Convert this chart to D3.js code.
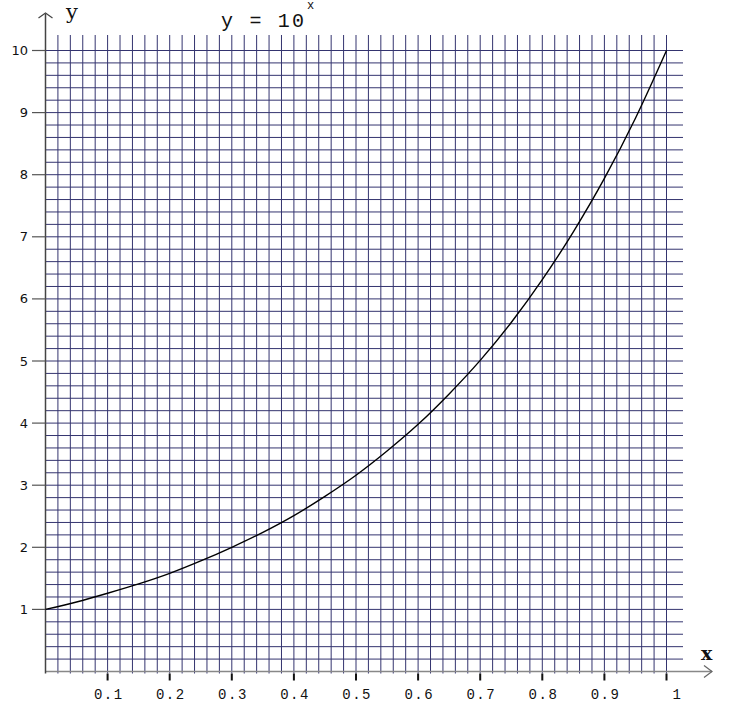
<!DOCTYPE html>
<html>
<head>
<meta charset="utf-8">
<script src="https://cdn.jsdelivr.net/npm/d3@7"></script>
<style>
  html, body { margin: 0; padding: 0; background: #fff; }
  svg { display: block; }
</style>
</head>
<body>
<div id="chart"></div>
<script>
// values
const xValues = [0, 0.05, 0.1, 0.15, 0.2, 0.25, 0.3, 0.35, 0.4, 0.45, 0.5, 0.55, 0.6, 0.65, 0.7, 0.75, 0.8, 0.85, 0.9, 0.95, 1];
const yValues = [1, 1.12, 1.26, 1.41, 1.58, 1.78, 2.0, 2.24, 2.51, 2.82, 3.16, 3.55, 3.98, 4.47, 5.01, 5.62, 6.31, 7.08, 7.94, 8.91, 10];
const xTicks = [0.1, 0.2, 0.3, 0.4, 0.5, 0.6, 0.7, 0.8, 0.9, 1];
const xTickLabels = ["0.1", "0.2", "0.3", "0.4", "0.5", "0.6", "0.7", "0.8", "0.9", "1"];
const yTicks = [1, 2, 3, 4, 5, 6, 7, 8, 9, 10];

const width = 731, height = 710;
const gridColor = "#34346f";

const svg = d3.select("#chart").append("svg").attr("width", width).attr("height", height);

const x = d3.scaleLinear().domain([0, 1]).range([45.5, 666.5]);
const y = d3.scaleLinear().domain([0, 10]).range([671.5, 50.5]);

// grid: fine verticals every 0.02, horizontals every 0.2
const vGrid = d3.range(1, 51).map((k) => k / 50);
const hGrid = d3.range(1, 51).map((k) => k / 5);

svg.append("g").selectAll("line").data(vGrid).enter().append("line")
  .attr("x1", (d) => x(d)).attr("x2", (d) => x(d))
  .attr("y1", 35).attr("y2", y(0) + 2)
  .attr("stroke", gridColor).attr("stroke-width", 1);

svg.append("g").selectAll("line").data(hGrid).enter().append("line")
  .attr("x1", x(0)).attr("x2", 683)
  .attr("y1", (d) => y(d)).attr("y2", (d) => y(d))
  .attr("stroke", gridColor).attr("stroke-width", 1);

// x axis with open arrow
svg.append("line").attr("x1", x(0)).attr("x2", 712).attr("y1", y(0)).attr("y2", y(0))
  .attr("stroke", "#888").attr("stroke-width", 1.5);
svg.append("path").attr("d", `M704,${y(0) - 6}L712,${y(0)}L704,${y(0) + 6}`)
  .attr("fill", "none").attr("stroke", "#666").attr("stroke-width", 1.2);

// y axis with open arrow
svg.append("line").attr("x1", x(0)).attr("x2", x(0)).attr("y1", 14).attr("y2", y(0) + 2)
  .attr("stroke", "#444").attr("stroke-width", 1.5);
svg.append("path").attr("d", `M${x(0) - 7},18L${x(0)},13L${x(0) + 7},18`)
  .attr("fill", "none").attr("stroke", "#444").attr("stroke-width", 1.2);

// x ticks and labels
svg.append("g").selectAll("line").data(xTicks).enter().append("line")
  .attr("x1", (d) => x(d)).attr("x2", (d) => x(d))
  .attr("y1", y(0) + 2).attr("y2", y(0) + 9)
  .attr("stroke", "#111").attr("stroke-width", 2);

svg.append("g").selectAll("text").data(xTicks).enter().append("text")
  .attr("x", (d) => x(d) + 16)
  .attr("y", 699)
  .attr("text-anchor", "end")
  .attr("font-family", "Liberation Mono, monospace")
  .attr("font-size", 14)
  .attr("letter-spacing", 1.5)
  .attr("fill", "#111")
  .text((d, i) => xTickLabels[i]);

// y ticks and labels
svg.append("g").selectAll("line").data(yTicks).enter().append("line")
  .attr("x1", 32).attr("x2", x(0))
  .attr("y1", (d) => y(d)).attr("y2", (d) => y(d))
  .attr("stroke", "#555").attr("stroke-width", 1.2);

svg.append("g").selectAll("text").data(yTicks).enter().append("text")
  .attr("x", 28)
  .attr("y", (d) => y(d) + 4.5)
  .attr("text-anchor", "end")
  .attr("font-family", "DejaVu Sans, sans-serif")
  .attr("font-size", 13)
  .attr("fill", "#111")
  .text((d) => d);

// axis names
svg.append("text").attr("x", 66).attr("y", 19)
  .attr("font-family", "DejaVu Serif, serif").attr("font-size", 21).attr("fill", "#111")
  .text("y");
svg.append("text").attr("x", 701).attr("y", 660)
  .attr("font-family", "DejaVu Serif, serif").attr("font-size", 19).attr("font-weight", "bold").attr("fill", "#111")
  .text("x");

// title
svg.append("text").attr("x", 221).attr("y", 27)
  .attr("font-family", "Liberation Mono, monospace").attr("font-size", 20).attr("letter-spacing", 2.2).attr("fill", "#111")
  .text("y = 10");
svg.append("text").attr("x", 307).attr("y", 9)
  .attr("font-family", "Liberation Mono, monospace").attr("font-size", 12).attr("fill", "#111")
  .text("x");

// curve
const line = d3.line()
  .x((d, i) => x(xValues[i]))
  .y((d) => y(d))
  .curve(d3.curveMonotoneX);

svg.append("path").datum(yValues).attr("d", line)
  .attr("fill", "none").attr("stroke", "#000").attr("stroke-width", 1.4);
</script>
</body>
</html>
